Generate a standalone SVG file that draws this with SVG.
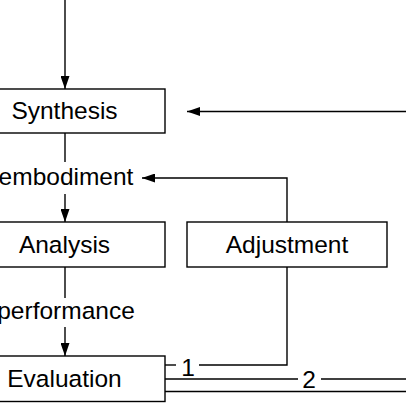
<svg xmlns="http://www.w3.org/2000/svg" width="406" height="406" viewBox="0 0 406 406">
<defs>
<style>
.box{fill:#fff;stroke:#000;stroke-width:1.4}
.ln{fill:none;stroke:#000;stroke-width:1.4}
.t{font-family:"Liberation Sans",Arial,sans-serif;font-size:24.5px;fill:#000;text-anchor:middle}
</style>
<marker id="ah" markerUnits="userSpaceOnUse" markerWidth="14" markerHeight="9" refX="13" refY="4.5" orient="auto">
<path d="M0,0 L13,4.5 L0,9 z" fill="#000"/>
</marker>
</defs>
<rect width="406" height="406" fill="#fff"/>
<g id="connectors">
<line class="ln" x1="65" y1="0" x2="65" y2="89" marker-end="url(#ah)"/>
<line class="ln" x1="406" y1="111.5" x2="187" y2="111.5" marker-end="url(#ah)"/>
<line class="ln" x1="65" y1="133" x2="65" y2="162"/>
<line class="ln" x1="65" y1="194" x2="65" y2="222" marker-end="url(#ah)"/>
<polyline class="ln" points="287,222 287,178 142,178" marker-end="url(#ah)"/>
<line class="ln" x1="65" y1="267" x2="65" y2="298"/>
<line class="ln" x1="65" y1="327" x2="65" y2="356" marker-end="url(#ah)"/>
<line class="ln" x1="165" y1="365" x2="176" y2="365"/>
<polyline class="ln" points="199,365 287,365 287,267"/>
<text class="t" x="188" y="376">1</text>
<line class="ln" x1="165" y1="379" x2="298" y2="379"/>
<line class="ln" x1="321" y1="379" x2="406" y2="379"/>
<text class="t" x="309" y="388">2</text>
<line class="ln" x1="165" y1="391.5" x2="406" y2="391.5"/>
<text class="t" x="66" y="185">embodiment</text>
<text class="t" x="66" y="319">performance</text>
</g>
<g id="synthesis">
<rect class="box" x="-36" y="89" width="201" height="44"/>
<text class="t" x="64.5" y="119">Synthesis</text>
</g>
<g id="analysis">
<rect class="box" x="-36" y="222" width="201" height="45"/>
<text class="t" x="64.5" y="253">Analysis</text>
</g>
<g id="adjustment">
<rect class="box" x="187" y="222" width="200" height="45"/>
<text class="t" x="287" y="253">Adjustment</text>
</g>
<g id="evaluation">
<rect class="box" x="-36" y="356" width="201" height="45.5"/>
<text class="t" x="64.5" y="387">Evaluation</text>
</g>
</svg>
